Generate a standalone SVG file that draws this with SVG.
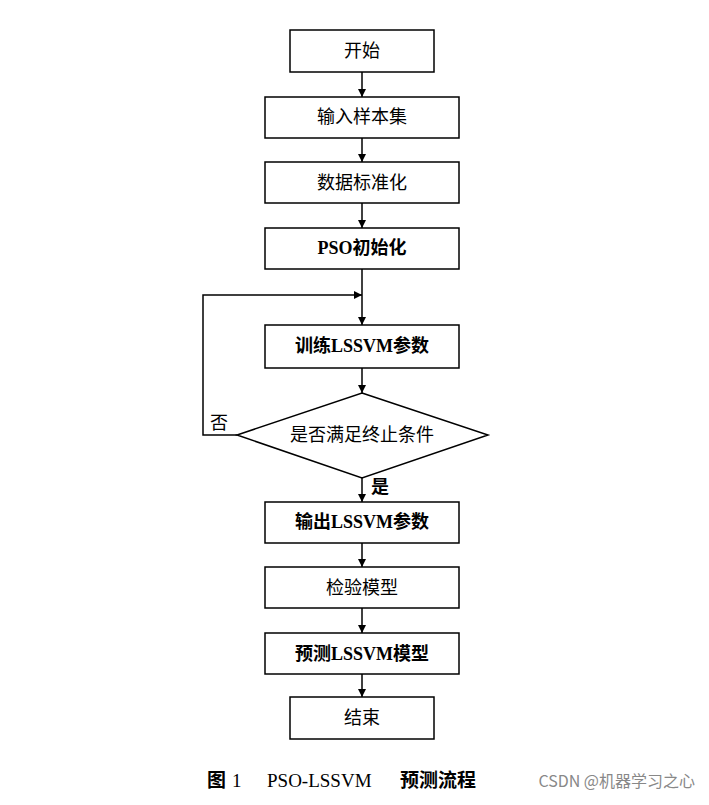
<svg xmlns="http://www.w3.org/2000/svg" width="709" height="805" viewBox="0 0 709 805">
<defs>
<marker id="a" markerWidth="8" markerHeight="10" refX="8" refY="5" orient="auto" markerUnits="userSpaceOnUse"><path d="M0,1 L8,5 L0,9 Z" fill="#000"/></marker>
<style>
.b{fill:#fff;stroke:#000;stroke-width:1.5}
.t{font-family:"Liberation Serif","Noto Sans CJK SC",serif;font-size:18px;text-anchor:middle;dominant-baseline:central;fill:#000}
.c{fill:none;stroke:#000;stroke-width:1.5}
.cap{font-family:"Liberation Serif","Noto Sans CJK SC",serif;font-size:19px;fill:#000}
</style>
</defs>
<rect width="709" height="805" fill="#fff"/>
<g id="start"><rect class="b" x="290" y="30" width="144" height="42"/><text class="t" x="362" y="51">开始</text></g>
<g id="input"><rect class="b" x="265" y="97" width="194" height="41"/><text class="t" x="362" y="117">输入样本集</text></g>
<g id="norm"><rect class="b" x="265" y="162" width="194" height="41"/><text class="t" x="362" y="183">数据标准化</text></g>
<g id="init"><rect class="b" x="265" y="228" width="194" height="41"/><text class="t" x="362" y="248" font-weight="bold">PSO初始化</text></g>
<g id="train"><rect class="b" x="265" y="325" width="194" height="43"/><text class="t" x="362" y="346" font-weight="bold">训练LSSVM参数</text></g>
<g id="cond"><polygon class="b" points="362,393 488,435 362,478 237,435"/><text class="t" x="362" y="435">是否满足终止条件</text></g>
<g id="output"><rect class="b" x="265" y="502" width="194" height="41"/><text class="t" x="362" y="522" font-weight="bold">输出LSSVM参数</text></g>
<g id="check"><rect class="b" x="265" y="567" width="194" height="41"/><text class="t" x="362" y="588">检验模型</text></g>
<g id="predict"><rect class="b" x="265" y="633" width="194" height="41"/><text class="t" x="362" y="654" font-weight="bold">预测LSSVM模型</text></g>
<g id="end"><rect class="b" x="290" y="697" width="144" height="42"/><text class="t" x="362" y="718">结束</text></g>
<g id="connectors">
<line class="c" x1="362" y1="72" x2="362" y2="97" marker-end="url(#a)"/>
<line class="c" x1="362" y1="138" x2="362" y2="162" marker-end="url(#a)"/>
<line class="c" x1="362" y1="203" x2="362" y2="228" marker-end="url(#a)"/>
<line class="c" x1="362" y1="269" x2="362" y2="325" marker-end="url(#a)"/>
<polyline class="c" points="237,435 203,435 203,295 362,295" marker-end="url(#a)"/>
<line class="c" x1="362" y1="368" x2="362" y2="393" marker-end="url(#a)"/>
<line class="c" x1="362" y1="478" x2="362" y2="502" marker-end="url(#a)"/>
<line class="c" x1="362" y1="543" x2="362" y2="567" marker-end="url(#a)"/>
<line class="c" x1="362" y1="608" x2="362" y2="633" marker-end="url(#a)"/>
<line class="c" x1="362" y1="674" x2="362" y2="697" marker-end="url(#a)"/>
<text class="t" x="219" y="423">否</text>
<text class="t" x="380" y="487" font-weight="bold">是</text>
</g>
<text class="cap" x="207" y="787" font-weight="bold">图</text>
<text class="cap" x="232" y="787">1</text>
<text class="cap" x="267" y="787">PSO-LSSVM</text>
<text class="cap" x="400" y="787" font-weight="bold">预测流程</text>
<text x="695" y="787" text-anchor="end" font-family="'Noto Sans CJK SC',sans-serif" font-size="16" fill="#888">CSDN @机器学习之心</text>
</svg>
